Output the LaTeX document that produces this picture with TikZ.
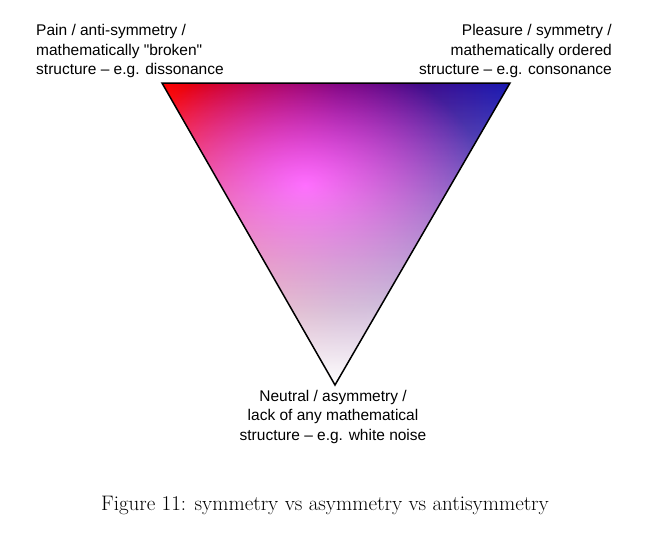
\documentclass[tikz,border=0pt]{standalone}
\usepackage{fontspec}
\newfontfamily\lab{Liberation Sans}
\usetikzlibrary{fadings}
\definecolor{cblue}{rgb}{0.1,0.1,0.7}
\definecolor{cdark}{rgb}{0.4,0,0.4}
\definecolor{cmag}{rgb}{1,0.15,1}
\tikzfading[name=fadedown, top color=transparent!100, middle color=transparent!70, bottom color=transparent!0]
\tikzfading[name=midglow, inner color=transparent!0, outer color=transparent!100]
\begin{document}
\begin{tikzpicture}[x=1pt,y=-1pt,
  lbl/.style={font=\lab\fontsize{15.5}{19.5}\selectfont, inner sep=0pt}]
\useasboundingbox (0,0) rectangle (662,542);
\coordinate (A) at (162,83);
\coordinate (B) at (510,83);
\coordinate (C) at (335,385);
\shade[left color=red, right color=cblue, middle color=cdark] (A) -- (B) -- (C) -- cycle;
\begin{scope}
\clip (A) -- (B) -- (C) -- cycle;
\fill[cmag, path fading=midglow] (305,185) ellipse (180 and 130);
\end{scope}
\fill[white, path fading=fadedown] (A) -- (B) -- (C) -- cycle;
\draw[line width=1.5pt, line join=miter] (A) -- (B) -- (C) -- cycle;
\node[lbl, align=left, anchor=south west] (pain) at (36,78) {Pain / anti-symmetry /\\mathematically "broken"\\structure \textendash{} e.g. dissonance};
\node[lbl, align=right, anchor=south east] (pleasure) at (612,78) {Pleasure / symmetry /\\mathematically ordered\\structure \textendash{} e.g. consonance};
\node[lbl, align=center, anchor=north] (neutral) at (333,390) {Neutral / asymmetry /\\lack of any mathematical\\structure \textendash{} e.g. white noise};
\node[font=\fontsize{21}{24}\selectfont, inner sep=0pt] (cap) at (325,505) {Figure 11: symmetry vs asymmetry vs antisymmetry};
\end{tikzpicture}
\end{document}
